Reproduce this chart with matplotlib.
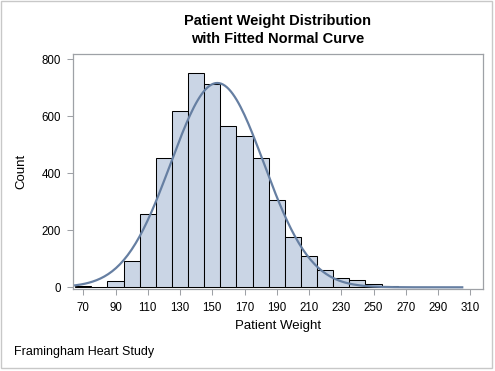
import numpy as np
import matplotlib
matplotlib.use("Agg")
import matplotlib.pyplot as plt
from matplotlib.patches import Rectangle

plt.rcParams['font.family'] = ['Liberation Sans', 'DejaVu Sans']

# histogram bins (width 10, centred on 70, 80, ...)
bin_left = [65, 75, 85, 95, 105, 115, 125, 135, 145, 155, 165, 175, 185,
            195, 205, 215, 225, 235, 245, 255, 265, 275]
counts = [5, 0, 22, 92, 256, 452, 620, 753, 715, 567, 532, 455, 305,
          175, 110, 60, 31, 26, 10, 3, 2, 2]
bin_width = 10

# fitted normal curve parameters
mu = 153.1
sigma = 28.9
curve_start, curve_end = 65, 305

x_ticks = list(range(70, 311, 20))
y_ticks = [0, 200, 400, 600, 800]

frame_col = '#9EA1A6'
fill_col = '#CAD5E5'
line_col = '#667FA2'

W, H = 495, 371
fig = plt.figure(figsize=(W / 100, H / 100), dpi=100)
ax = fig.add_axes([72.7 / W, 1 - 289.3 / H, (483.3 - 72.7) / W, (289.3 - 54.3) / H])

ax.bar(bin_left, counts, width=bin_width, align='edge', color=fill_col,
       edgecolor='black', linewidth=0.75, zorder=2)

n_total = sum(counts)
xs = np.linspace(curve_start, curve_end, 200)
ys = n_total * bin_width / (sigma * np.sqrt(2 * np.pi)) * np.exp(-0.5 * ((xs - mu) / sigma) ** 2)
ax.plot(xs, ys, color=line_col, linewidth=1.6, zorder=3)

ax.set_xlim(63.43, 318.06)
ax.set_ylim(-7, 817.5)
ax.set_xticks(x_ticks)
ax.set_yticks(y_ticks)
ax.tick_params(axis='both', direction='out', length=4, width=0.75,
               color=frame_col, labelsize=8.3, labelcolor='black')
ax.tick_params(axis='x', pad=5.5)
ax.tick_params(axis='y', pad=4.5)
for sp in ax.spines.values():
    sp.set_color(frame_col)
    sp.set_linewidth(0.9)

ax.set_xlabel('Patient Weight', fontsize=9.5, labelpad=4)
ax.set_ylabel('Count', fontsize=9.5, labelpad=10)

fig.text(277.8 / W, 1 - 25.3 / H, 'Patient Weight Distribution', ha='center',
         va='baseline', fontsize=10.5, fontweight='bold')
fig.text(277.8 / W, 1 - 42.7 / H, 'with Fitted Normal Curve', ha='center',
         va='baseline', fontsize=10.5, fontweight='bold')
fig.text(14 / W, 1 - 355 / H, 'Framingham Heart Study', ha='left',
         va='baseline', fontsize=9)

fig.patches.append(Rectangle((1 / W, 2.7 / H), 491.3 / W, 367.8 / H,
                             transform=fig.transFigure, fill=False,
                             edgecolor='#C8C8C8', linewidth=1))

fig.savefig('out.png', dpi=100)
